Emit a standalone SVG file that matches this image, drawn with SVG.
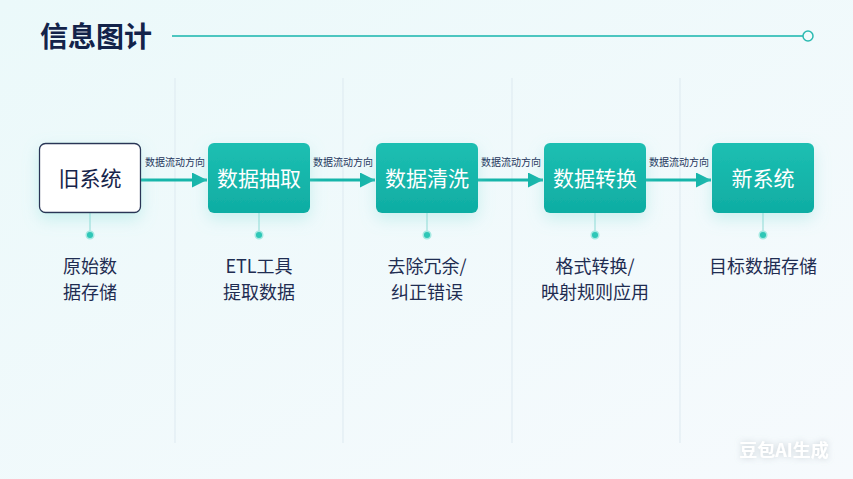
<svg xmlns="http://www.w3.org/2000/svg" width="853" height="479" viewBox="0 0 853 479">
<defs>
<linearGradient id="bg" x1="0" y1="0" x2="1" y2="1">
<stop offset="0" stop-color="#ebf9fa"/>
<stop offset="1" stop-color="#f6fafd"/>
</linearGradient>
<linearGradient id="teal" x1="0" y1="0" x2="0" y2="1">
<stop offset="0" stop-color="#1dbfb2"/>
<stop offset="1" stop-color="#0fada3"/>
</linearGradient>
<filter id="soft" x="-50%" y="-50%" width="200%" height="220%">
<feGaussianBlur in="SourceAlpha" stdDeviation="8" result="b"/>
<feOffset dy="6" result="o"/>
<feFlood flood-color="#7fdcd6" flood-opacity="0.35"/>
<feComposite operator="in" in2="o"/>
<feMerge><feMergeNode/><feMergeNode in="SourceGraphic"/></feMerge>
</filter>
<filter id="wm" x="-30%" y="-60%" width="160%" height="220%">
<feGaussianBlur in="SourceAlpha" stdDeviation="3" result="b"/>
<feFlood flood-color="#9aa4ad" flood-opacity="0.5"/>
<feComposite operator="in" in2="b"/>
<feMerge><feMergeNode/><feMergeNode in="SourceGraphic"/></feMerge>
</filter>
<marker id="ah" viewBox="0 0 10 10" refX="10" refY="5" markerWidth="5" markerHeight="5" markerUnits="strokeWidth" orient="auto">
<path d="M0,0 L10,5 L0,10 z" fill="#16b5aa"/>
</marker>
<style>
text{font-family:"Noto Sans CJK SC","Noto Sans",sans-serif;}
.title{font-size:28px;font-weight:700;fill:#13234a;}
.div{stroke:#dde9f0;stroke-width:1;}
.box{fill:url(#teal);}
.btxt{font-size:21px;fill:#ffffff;text-anchor:middle;}
.otxt{font-size:21px;fill:#17244a;text-anchor:middle;}
.arrow{stroke:#16b5aa;stroke-width:3;fill:none;}
.albl{font-size:10px;fill:#24335a;text-anchor:middle;}
.stem{stroke:#8fdad5;stroke-width:1;}
.dot{fill:#2fc7b7;stroke:#a6e9e2;stroke-width:1.5;}
.desc{font-size:18px;fill:#1f2d52;text-anchor:middle;}
</style>
</defs>
<rect width="853" height="479" fill="url(#bg)"/>
<g id="header">
<text class="title" x="40" y="47">信息图计</text>
<line x1="172" y1="36" x2="803" y2="36" stroke="#4cc6c0" stroke-width="2"/>
<circle cx="808" cy="36" r="5" fill="#f2fbfb" stroke="#2bbab1" stroke-width="1.5"/>
</g>
<g id="dividers">
<line class="div" x1="175" y1="78" x2="175" y2="443"/>
<line class="div" x1="343" y1="78" x2="343" y2="443"/>
<line class="div" x1="512" y1="78" x2="512" y2="443"/>
<line class="div" x1="680" y1="78" x2="680" y2="443"/>
</g>
<g id="connectors">
<line class="arrow" x1="141" y1="180" x2="207" y2="180" marker-end="url(#ah)"/>
<line class="arrow" x1="310" y1="180" x2="375" y2="180" marker-end="url(#ah)"/>
<line class="arrow" x1="478" y1="180" x2="543" y2="180" marker-end="url(#ah)"/>
<line class="arrow" x1="646" y1="180" x2="711" y2="180" marker-end="url(#ah)"/>
<text class="albl" x="175" y="166">数据流动方向</text>
<text class="albl" x="343" y="166">数据流动方向</text>
<text class="albl" x="511" y="166">数据流动方向</text>
<text class="albl" x="679" y="166">数据流动方向</text>
<line class="stem" x1="90" y1="213" x2="90" y2="232"/>
<line class="stem" x1="259" y1="213" x2="259" y2="232"/>
<line class="stem" x1="427" y1="213" x2="427" y2="232"/>
<line class="stem" x1="595" y1="213" x2="595" y2="232"/>
<line class="stem" x1="763" y1="213" x2="763" y2="232"/>
</g>
<g id="node-old">
<rect x="39.5" y="143.5" width="101" height="69" rx="6" fill="#ffffff" stroke="#2a3557" stroke-width="1.3" filter="url(#soft)"/>
<text class="otxt" x="90" y="186">旧系统</text>
<circle class="dot" cx="90" cy="235" r="3.8"/>
<text class="desc" x="90" y="273">原始数</text>
<text class="desc" x="90" y="299">据存储</text>
</g>
<g id="node-extract">
<rect class="box" x="208" y="143" width="102" height="70" rx="6" filter="url(#soft)"/>
<text class="btxt" x="259" y="186">数据抽取</text>
<circle class="dot" cx="259" cy="235" r="3.8"/>
<text class="desc" x="259" y="273">ETL工具</text>
<text class="desc" x="259" y="299">提取数据</text>
</g>
<g id="node-clean">
<rect class="box" x="376" y="143" width="102" height="70" rx="6" filter="url(#soft)"/>
<text class="btxt" x="427" y="186">数据清洗</text>
<circle class="dot" cx="427" cy="235" r="3.8"/>
<text class="desc" x="427" y="273">去除冗余/</text>
<text class="desc" x="427" y="299">纠正错误</text>
</g>
<g id="node-transform">
<rect class="box" x="544" y="143" width="102" height="70" rx="6" filter="url(#soft)"/>
<text class="btxt" x="595" y="186">数据转换</text>
<circle class="dot" cx="595" cy="235" r="3.8"/>
<text class="desc" x="595" y="273">格式转换/</text>
<text class="desc" x="595" y="299">映射规则应用</text>
</g>
<g id="node-new">
<rect class="box" x="712" y="143" width="102" height="70" rx="6" filter="url(#soft)"/>
<text class="btxt" x="763" y="186">新系统</text>
<circle class="dot" cx="763" cy="235" r="3.8"/>
<text class="desc" x="763" y="273">目标数据存储</text>
</g>
<g id="watermark">
<text x="784" y="457" font-size="18" font-weight="700" fill="#ffffff" text-anchor="middle" filter="url(#wm)">豆包AI生成</text>
</g>
</svg>
